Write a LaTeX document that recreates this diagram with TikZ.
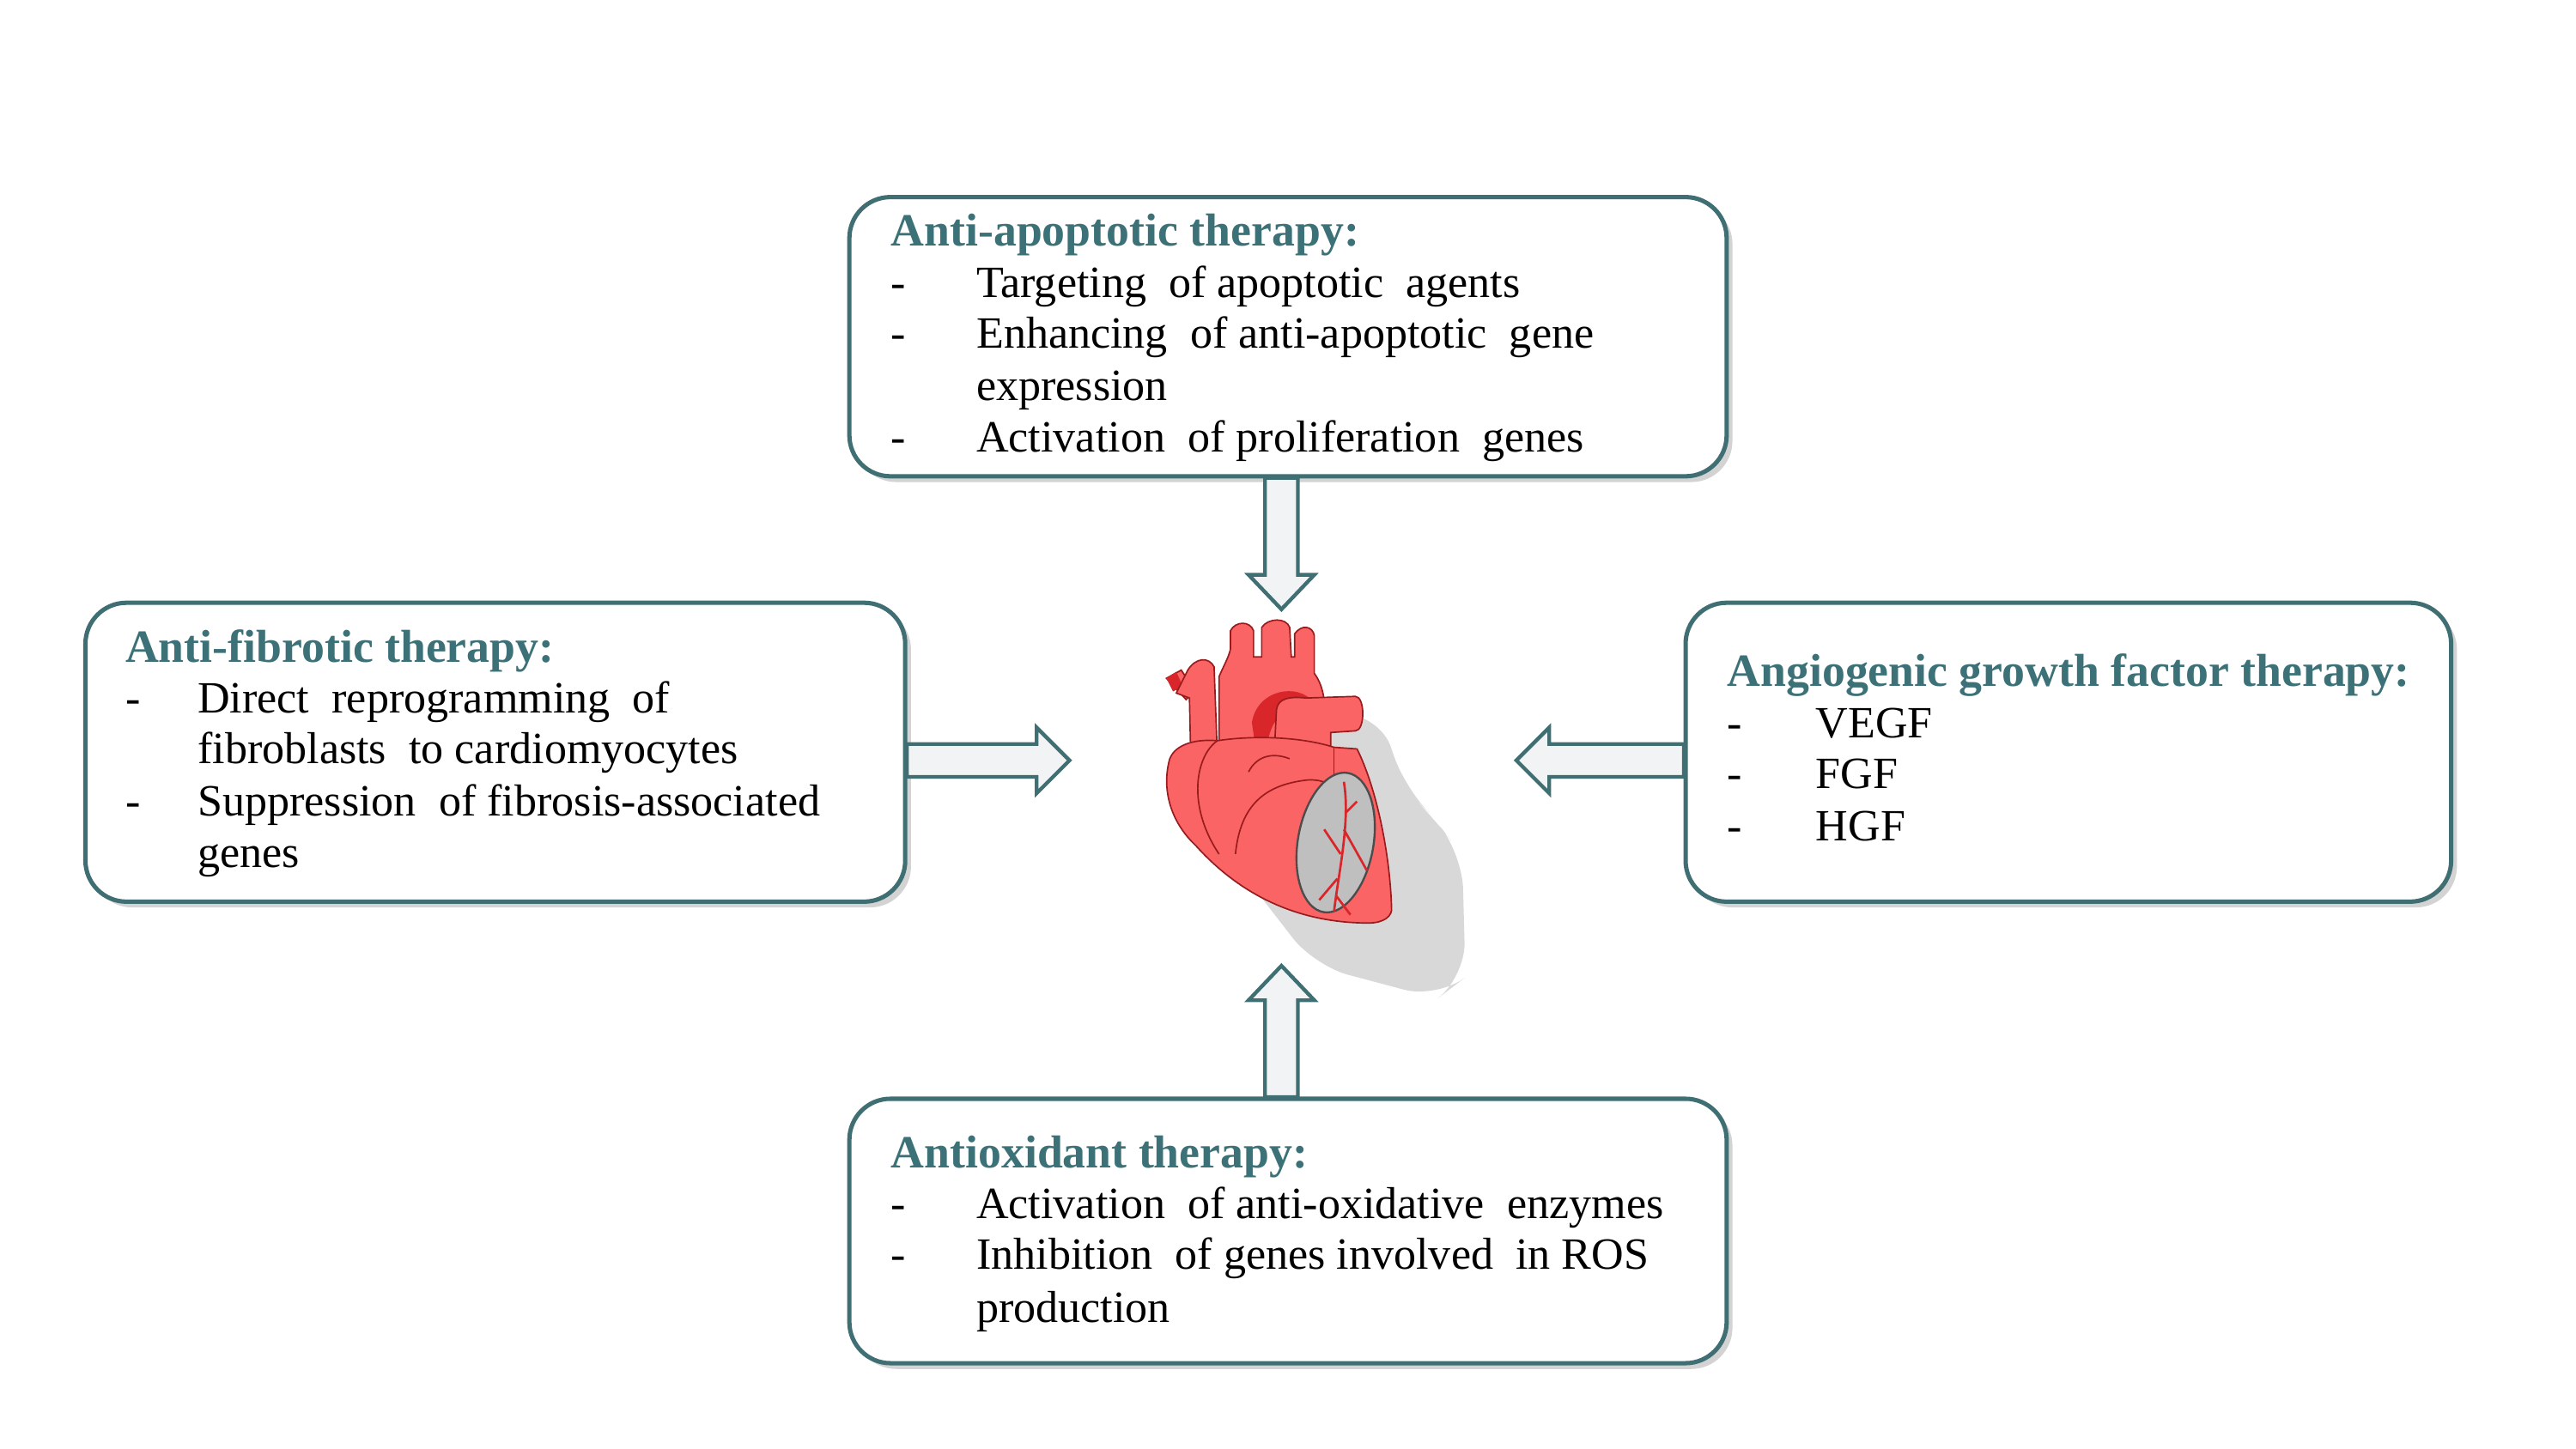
\documentclass[tikz,border=0pt]{standalone}
\usepackage{fontspec}
\setmainfont{Liberation Serif}
\usetikzlibrary{shadows,calc}
\definecolor{tealc}{HTML}{3F6E73}
\definecolor{titlec}{HTML}{3B7177}
\definecolor{heartc}{HTML}{FA6464}
\definecolor{heartd}{HTML}{D9262B}
\definecolor{arrowf}{HTML}{F1F3F4}
\begin{document}
\begin{tikzpicture}[x=0.02cm,y=-0.02cm,
  box/.style={draw=tealc,line width=1.5pt,rounded corners=0.5cm,fill=white,
    drop shadow={shadow xshift=2pt,shadow yshift=-2pt,opacity=0.35}},
  ttl/.style={anchor=base west,inner sep=0,font=\fontsize{16}{18}\selectfont\bfseries,text=titlec},
  txt/.style={anchor=base west,inner sep=0,font=\fontsize{15.5}{18}\selectfont},
  arr/.style={draw=tealc,line width=1.3pt,fill=arrowf,line join=miter}]
\useasboundingbox (0,0) rectangle (1568,882);
% boxes
\draw[box] (517,120) rectangle (1051,290);
\draw[box] (52,367) rectangle (551,549);
\draw[box] (1026,367) rectangle (1492,549);
\draw[box] (517,669) rectangle (1051,830);
% top text
\node[ttl] (t0) at (542,150) {Anti-apoptotic therapy:};
\node[txt] (t1) at (542,181) {-};
\node[txt] (t1b) at (594,181) {Targeting\ \ of apoptotic\ \ agents};
\node[txt] (t2) at (542,212) {-};
\node[txt] (t2b) at (594,212) {Enhancing\ \ of anti-apoptotic\ \ gene};
\node[txt] (t3b) at (594,244) {expression};
\node[txt] (t4) at (542,275) {-};
\node[txt] (t4b) at (594,275) {Activation\ \ of proliferation\ \ genes};
% left
\node[ttl] (l0) at (76,403) {Anti-fibrotic therapy:};
\node[txt] (l1) at (76,434) {-};
\node[txt] (l1b) at (120,434) {Direct\ \ reprogramming\ \ of};
\node[txt] (l2b) at (120,465) {fibroblasts\ \ to cardiomyocytes};
\node[txt] (l3) at (76,497) {-};
\node[txt] (l3b) at (120,497) {Suppression\ \ of fibrosis-associated};
\node[txt] (l4b) at (120,528) {genes};
% right
\node[ttl] (r0) at (1051,418) {Angiogenic growth factor therapy:};
\node[txt] (r1) at (1051,449) {-};
\node[txt] (r1b) at (1105,449) {VEGF};
\node[txt] (r2) at (1051,480) {-};
\node[txt] (r2b) at (1105,480) {FGF};
\node[txt] (r3) at (1051,512) {-};
\node[txt] (r3b) at (1105,512) {HGF};
% bottom
\node[ttl] (b0) at (542,711) {Antioxidant therapy:};
\node[txt] (b1) at (542,742) {-};
\node[txt] (b1b) at (594,742) {Activation\ \ of anti-oxidative\ \ enzymes};
\node[txt] (b2) at (542,773) {-};
\node[txt] (b2b) at (594,773) {Inhibition\ \ of genes involved\ \ in ROS};
\node[txt] (b3b) at (594,805) {production};
% arrows
\draw[arr] (770,291) -- (790,291) -- (790,350) -- (800,350) -- (780,371) -- (760,350) -- (770,350) -- cycle;
\draw[arr] (770,668) -- (790,668) -- (790,609) -- (800,609) -- (780,588) -- (760,609) -- (770,609) -- cycle;
\draw[arr] (552,453) -- (631,453) -- (631,443) -- (651,463) -- (631,483) -- (631,473) -- (552,473) -- cycle;
\draw[arr] (1025,453) -- (943,453) -- (943,443) -- (923,463) -- (943,483) -- (943,473) -- (1025,473) -- cycle;
% heart shadow
\foreach \o/\w in {0.05/14,0.05/8,0.06/3}{
\begin{scope}[shift={(40,40)}]
\fill[black,opacity=\o,rounded corners=12pt] (745,395) -- (800,395) -- (815,440) -- (830,455) -- (850,480) -- (852,555) -- (835,568) -- (760,548) -- (715,490) -- (725,450) -- cycle;
\fill[black,opacity=\o] (752,395) rectangle +(0.5*\w,0);
\end{scope}}
% heart vessels
\begin{scope}[draw=heartd!70!black,line width=0.5pt]
\draw[fill=heartc] (710,413) -- (719,408) -- (727,420) -- (722,426) -- cycle;
\fill[heartd] (710,413) -- (716,409) -- (720,418) -- (714,421) -- cycle;
\draw[fill=heartc] (723,408) .. controls (728,400) and (736,400) .. (739,406) -- (741,460) -- (725,470) -- (724,425) -- (716,422) -- cycle;
\draw[fill=heartc] (742,460) -- (742,412) .. controls (745,405) and (748,400) .. (749,395)
 -- (749,384) .. controls (752,378) and (761,378) .. (763,384) -- (763,400) -- (768,400)
 -- (768,382) .. controls (772,376) and (783,376) .. (785,382) -- (786,400) -- (788,400)
 -- (788,386) .. controls (792,380) and (799,381) .. (800,387) -- (800,410) .. controls (806,418) and (808,430) .. (806,455) -- cycle;
\fill[heartd] (762,440) .. controls (765,420) and (790,415) .. (800,428) -- (790,440) .. controls (782,432) and (775,436) .. (772,450) -- (765,460) -- cycle;
\draw[fill=heartc] (775,470) -- (777,432) .. controls (778,425) and (785,424) .. (795,425)
 -- (825,424) .. controls (831,424) and (831,445) .. (825,445) -- (810,446) -- (810,470) -- cycle;
% body
\draw[fill=heartc] (741,451) .. controls (760,448) and (790,448) .. (812,455)
 -- (826,456) .. controls (838,480) and (846,520) .. (847,552)
 .. controls (848,558) and (842,562) .. (833,562)
 .. controls (790,562) and (755,545) .. (728,515)
 .. controls (712,500) and (707,480) .. (712,462)
 .. controls (716,452) and (730,450) .. (741,451) -- cycle;
\draw (812,455) -- (812,490);
\draw (741,451) .. controls (728,460) and (722,490) .. (742,520);
\draw (752,520) .. controls (755,490) and (770,478) .. (795,475) .. controls (805,474) and (812,478) .. (817,485);
\draw (760,470) .. controls (765,460) and (775,458) .. (785,462);
% gray ellipse
\draw[fill=black!25,line width=0.7pt,draw=black!70] (813,513) ellipse [x radius=23,y radius=43,rotate=-10];
\draw[heartd,line width=0.8pt] (818,476) .. controls (822,500) and (815,530) .. (812,555)
 (819,495) -- (826,488) (818,505) -- (832,530) (816,520) -- (806,505) (814,535) -- (803,548) (813,545) -- (822,557);
\end{scope}
\end{tikzpicture}
\end{document}
